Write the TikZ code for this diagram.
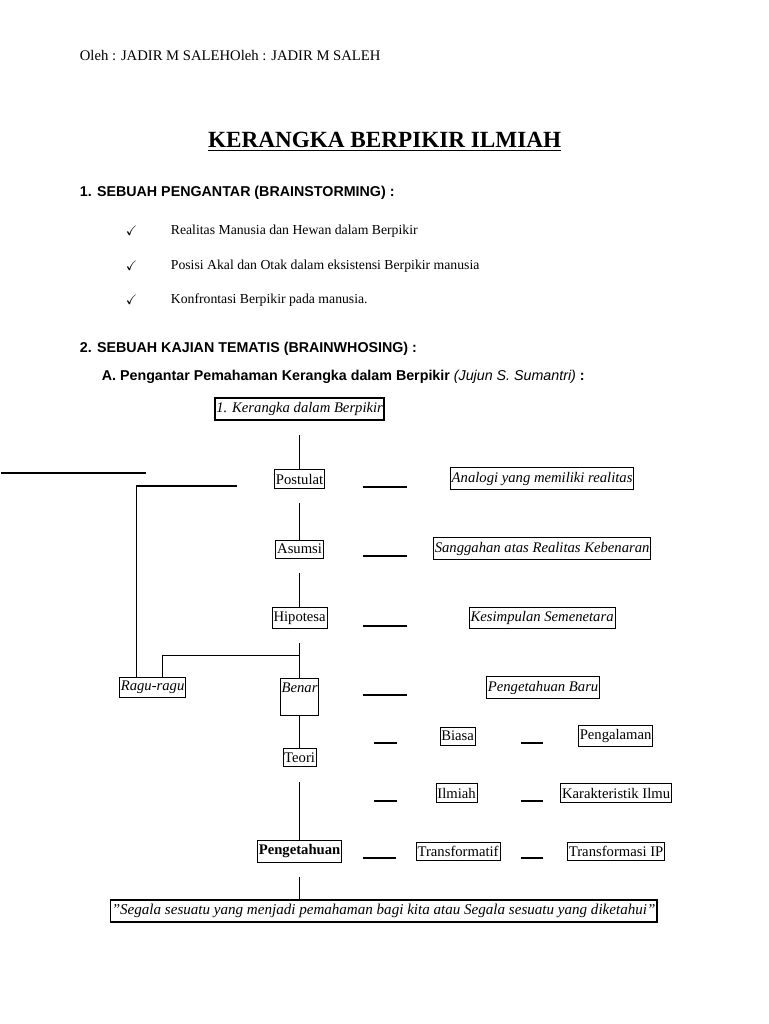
\documentclass[tikz,border=0pt]{standalone}
\usepackage{fontspec}
\usepackage{amssymb}
\setmainfont{Liberation Serif}
\setsansfont{Liberation Sans}
\usetikzlibrary{calc}

\tikzset{
  box/.style={draw,line width=0.6pt,inner xsep=1pt,inner ysep=3pt,font=\fontsize{11}{13}\selectfont},
  ibox/.style={box,font=\fontsize{11}{13}\selectfont\itshape},
  frame/.style={ibox,line width=1.4pt},
  link/.style={line width=0.9pt},
  gap/.style={link,shorten <=11pt},
  head/.style={anchor=west,inner sep=0pt,font=\sffamily\bfseries\fontsize{10.7}{12}\selectfont},
  body/.style={anchor=west,inner sep=0pt,font=\fontsize{10.3}{12}\selectfont}
}

\begin{document}
\begin{tikzpicture}[x=0.75pt,y=-0.75pt]
  \path[fill=white] (0,0) rectangle (768,1024);
  % header
  \node[body,font=\fontsize{11}{13}\selectfont] (oleh) at (79,56) {Oleh : JADIR M SALEHOleh : JADIR M SALEH};
  \node[font=\bfseries\fontsize{17.4}{20}\selectfont] (title) at (384,142) {\underline{KERANGKA BERPIKIR ILMIAH}};
  \node[head] (h1) at (79,193) {1. SEBUAH PENGANTAR (BRAINSTORMING) :};
  \foreach \y/\txt [count=\i] in {
    231/{Realitas Manusia dan Hewan dalam Berpikir},
    266/{Posisi Akal dan Otak dalam eksistensi Berpikir manusia},
    300/{Konfrontasi Berpikir pada manusia.}}{
    \node[body] (chk\i) at (125,\y) {$\checkmark$};
    \node[body] (item\i) at (170,\y) {\txt};
  }
  \node[head] (h2) at (79,349) {2. SEBUAH KAJIAN TEMATIS (BRAINWHOSING) :};
  \node[head] (h2a) at (101,377) {A. Pengantar Pemahaman Kerangka dalam Berpikir {\mdseries\itshape (Jujun S. Sumantri)} :};

  % main chain
  \node[frame] (kerangka) at (299,409) {1. Kerangka dalam Berpikir};
  \node[box] (postulat) at (299,479) {Postulat};
  \node[box] (asumsi) at (299,549) {Asumsi};
  \node[box] (hipotesa) at (299,618) {Hipotesa};
  \node[ibox] (ragu) at (152,687.5) {Ragu-ragu};
  \node[ibox,text height=8pt,text depth=13.75pt] (benar) at (299,696.5) {Benar};
  \node[box] (teori) at (299,757.5) {Teori};
  \node[box,font=\bfseries\fontsize{11}{13}\selectfont] (peng) at (299,851.5) {Pengetahuan};
  \node[frame,font=\itshape\fontsize{11.3}{13}\selectfont] (quote) at (383,911)
    {"Segala sesuatu yang menjadi pemahaman bagi kita atau Segala sesuatu yang diketahui"};

  % right column
  \node[ibox] (analogi) at (541.5,478.5) {Analogi yang memiliki realitas};
  \node[ibox] (sanggah) at (541.5,548.5) {Sanggahan atas Realitas Kebenaran};
  \node[ibox] (simpul) at (541.5,618) {Kesimpulan Semenetara};
  \node[ibox] (baru) at (542.5,687.5) {Pengetahuan Baru};
  \node[box] (biasa) at (457,736) {Biasa};
  \node[box] (alami) at (615,736) {Pengalaman};
  \node[box] (ilmiah) at (456,793) {Ilmiah};
  \node[box] (ciri) at (615.5,793) {Karakteristik Ilmu};
  \node[box] (trans) at (457.5,851.5) {Transformatif};
  \node[box] (transip) at (615.5,851.5) {Transformasi IP};

  % connectors
  \draw[gap] (kerangka.south) -- (postulat.north);
  \draw[gap] (postulat.south) -- (asumsi.north);
  \draw[gap] (asumsi.south) -- (hipotesa.north);
  \draw[gap] (hipotesa.south) -- (benar.north);
  \coordinate (fork) at ($(hipotesa.south)+(0,27)$);
  \draw[link] (fork) -| ($(ragu.north)+(10,0)$);
  \coordinate (armR) at (236,486);
  \coordinate (bend) at (136,486);
  \draw[link] (armR) -- (bend) -- (bend |- ragu.north);
  \draw[link] (benar.south) -- (teori.north);
  \draw[gap] (teori.south) -- (peng.north);
  \draw[gap] (peng.south) -- (peng.south |- quote.north);
  \coordinate (edgeL) at (0,473);
  \coordinate (edgeR) at (145,473);
  \draw[link] (edgeL) -- (edgeR);

  % blanks
  \foreach \y in {487,556,626,695}
    \draw[link] (362,\y) -- (406,\y);
  \foreach \x/\y/\w in {373/743/23,373/801/23,362/858/33,520/743/22,520/801/22,520/858/22}
    \draw[link] (\x,\y) -- ++(\w,0);
\end{tikzpicture}
\end{document}
